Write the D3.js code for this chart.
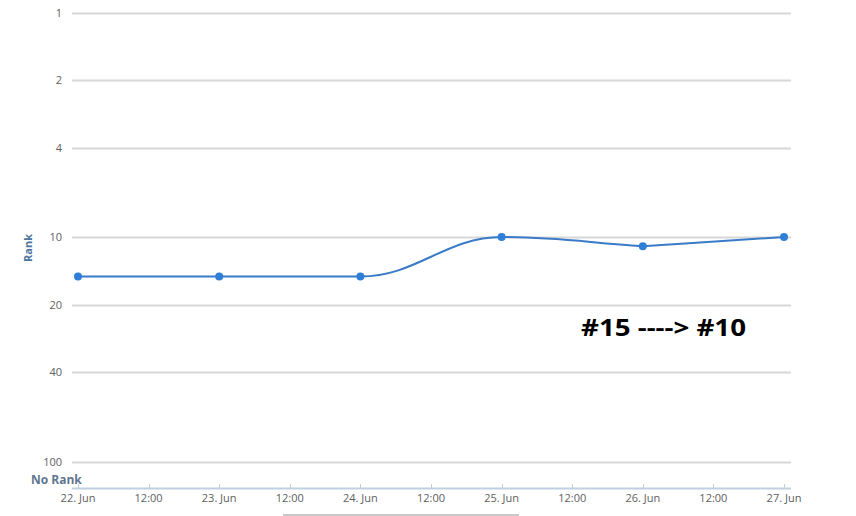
<!DOCTYPE html>
<html>
<head>
<meta charset="utf-8">
<script src="https://cdn.jsdelivr.net/npm/d3@7"></script>
<style>
  html, body { margin: 0; padding: 0; background: #fff; }
  svg { display: block; }
</style>
</head>
<body>
<div id="chart"></div>
<script>
// ---- data ----
const dates = ["2013-06-22", "2013-06-23", "2013-06-24", "2013-06-25", "2013-06-26", "2013-06-27"];
const ranks = [15, 15, 15, 10, 11, 10];
const yTicks = [1, 2, 4, 10, 20, 40, 100];
const annotationText = "#15 ----> #10";
const yTitle = "Rank";
const noRankLabel = "No Rank";

const W = 856, H = 516;
const svg = d3.select("#chart").append("svg").attr("width", W).attr("height", H);

const parse = d3.timeParse("%Y-%m-%d");
const pts = dates.map((d, i) => ({ date: parse(dates[i]), rank: ranks[i] }));

const plotLeft = 72, plotRight = 791;
const x = d3.scaleTime()
  .domain([parse(dates[0]), parse(dates[dates.length - 1])])
  .range([78, 784]);
const y = d3.scaleLog().domain([1, 100]).range([12.5, 461.5]);

const font = "'Open Sans', 'DejaVu Sans', sans-serif";

// gridlines
svg.append("g").selectAll("line").data(yTicks).join("line")
  .attr("x1", plotLeft).attr("x2", plotRight)
  .attr("y1", d => Math.round(y(d)) + 0.5).attr("y2", d => Math.round(y(d)) + 0.5)
  .attr("stroke", "#d8d8d8").attr("stroke-width", 2);

// y labels
svg.append("g").selectAll("text").data(yTicks).join("text")
  .attr("x", 62).attr("y", d => y(d) + 4)
  .attr("text-anchor", "end")
  .attr("font-family", font).attr("font-size", 11).attr("fill", "#606060")
  .text(d => d);

// y title
svg.append("text")
  .attr("transform", "translate(32,248) rotate(-90)")
  .attr("text-anchor", "middle")
  .attr("font-family", font).attr("font-size", 11).attr("font-weight", "bold")
  .attr("fill", "#4d759e")
  .text(yTitle);

// No Rank
svg.append("text")
  .attr("x", 31).attr("y", 484)
  .attr("font-family", font).attr("font-size", 12).attr("font-weight", "bold")
  .attr("fill", "#5f7690")
  .text(noRankLabel);

// x axis
const axisY = 488;
svg.append("line")
  .attr("x1", plotLeft).attr("x2", plotRight)
  .attr("y1", axisY + 0.5).attr("y2", axisY + 0.5)
  .attr("stroke", "#c0d0e0").attr("stroke-width", 2);

const xTicks = d3.timeHour.every(12).range(x.domain()[0], d3.timeHour.offset(x.domain()[1], 1));
const fmt = d => (d.getHours() === 0 ? d3.timeFormat("%d. %b")(d) : d3.timeFormat("%H:%M")(d));
svg.append("g").selectAll("line").data(xTicks).join("line")
  .attr("x1", d => Math.round(x(d)) + 0.5).attr("x2", d => Math.round(x(d)) + 0.5)
  .attr("y1", axisY - 4).attr("y2", axisY)
  .attr("stroke", "#c0d0e0").attr("stroke-width", 1);
svg.append("g").selectAll("text").data(xTicks).join("text")
  .attr("x", d => x(d)).attr("y", 502)
  .attr("text-anchor", "middle")
  .attr("font-family", font).attr("font-size", 11).attr("fill", "#606060")
  .text(fmt);

// bottom stub (navigator remnant)
svg.append("line")
  .attr("x1", 283).attr("x2", 519).attr("y1", 515).attr("y2", 515)
  .attr("stroke", "#c8c8c8").attr("stroke-width", 2);

// Highcharts-like spline
const P = pts.map(p => [x(p.date), y(p.rank)]);
function splinePath(P) {
  const smoothing = 1.5, denom = smoothing + 1;
  const path = d3.path();
  path.moveTo(P[0][0], P[0][1]);
  const ctrl = P.map((p, i) => {
    if (i === 0 || i === P.length - 1) return null;
    const [lx, ly] = P[i - 1], [nx, ny] = P[i + 1];
    const [px, py] = p;
    let lcx = (smoothing * px + lx) / denom, lcy = (smoothing * py + ly) / denom;
    let rcx = (smoothing * px + nx) / denom, rcy = (smoothing * py + ny) / denom;
    const corr = ((rcy - lcy) * (rcx - px)) / (rcx - lcx);
    lcy += corr; rcy += corr;
    if (lcy > Math.max(ly, py)) { lcy = Math.max(ly, py); rcy = 2 * py - lcy; }
    else if (lcy < Math.min(ly, py)) { lcy = Math.min(ly, py); rcy = 2 * py - lcy; }
    if (rcy > Math.max(ny, py)) { rcy = Math.max(ny, py); lcy = 2 * py - rcy; }
    else if (rcy < Math.min(ny, py)) { rcy = Math.min(ny, py); lcy = 2 * py - rcy; }
    return { lcx, lcy, rcx, rcy };
  });
  for (let i = 1; i < P.length; i++) {
    const prev = ctrl[i - 1], cur = ctrl[i];
    const c1x = prev ? prev.rcx : P[i - 1][0], c1y = prev ? prev.rcy : P[i - 1][1];
    const c2x = cur ? cur.lcx : P[i][0], c2y = cur ? cur.lcy : P[i][1];
    path.bezierCurveTo(c1x, c1y, c2x, c2y, P[i][0], P[i][1]);
  }
  return path.toString();
}

svg.append("path")
  .attr("d", splinePath(P))
  .attr("fill", "none").attr("stroke", "#3a7bc8").attr("stroke-width", 2);

svg.append("g").selectAll("circle").data(pts).join("circle")
  .attr("cx", d => x(d.date)).attr("cy", d => y(d.rank))
  .attr("r", 4).attr("fill", "#2f7ed8");

// annotation
svg.append("text")
  .attr("x", 581).attr("y", 336)
  .attr("font-family", "'Open Sans', 'Liberation Sans', sans-serif")
  .attr("font-size", 24).attr("font-weight", "bold").attr("fill", "#000")
  .attr("textLength", 165).attr("lengthAdjust", "spacingAndGlyphs")
  .text(annotationText);
</script>
</body>
</html>
